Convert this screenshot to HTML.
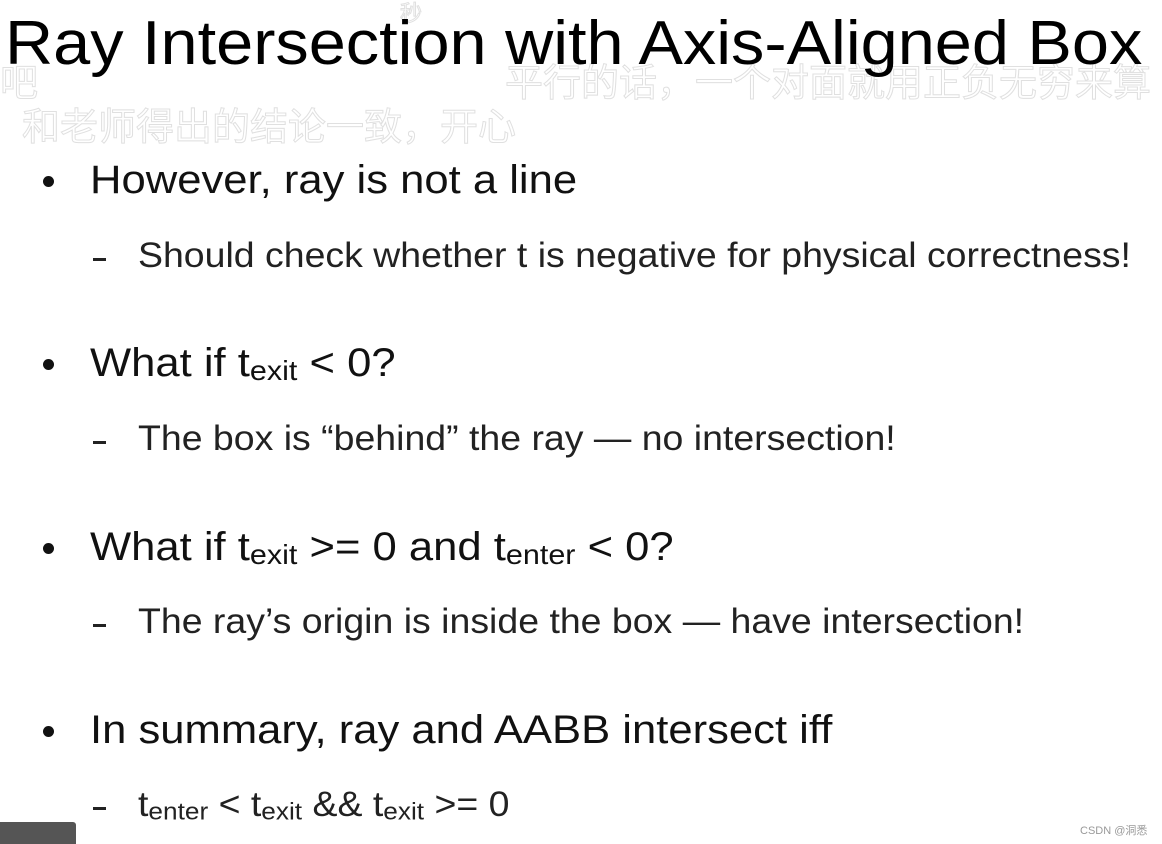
<!DOCTYPE html>
<html><head><meta charset="utf-8"><style>
html,body{margin:0;padding:0;background:#fff;}
body{width:1162px;height:844px;position:relative;overflow:hidden;font-family:"Liberation Sans","Noto Sans CJK SC",sans-serif;color:#111;}
.t{position:absolute;white-space:nowrap;transform-origin:0 0;}
.title{left:5px;top:8px;font-size:62px;font-weight:normal;color:#000;transform:scaleX(1.075);}
.b{font-size:40px;transform:scaleX(1.09);}
.s{font-size:35px;color:#222;transform:scaleX(1.07);}
.dot{position:absolute;width:11px;height:11px;border-radius:50%;background:#111;}
.dash{position:absolute;width:13px;height:3px;background:#222;}
sub{font-size:0.7em;vertical-align:-0.15em;line-height:0;}
.wm{position:absolute;white-space:nowrap;font-size:38px;color:#fff;-webkit-text-stroke:1px #e0e0e0;font-family:"Noto Sans CJK SC",sans-serif;}
</style></head><body>
<div class="wm" style="left:0;top:52px;">吧</div>
<div class="wm" style="left:505px;top:52px;">平行的话，一个对面就用正负无穷来算</div>
<div class="wm" style="left:22px;top:96px;">和老师得出的结论一致，开心</div>
<div class="wm" style="left:400px;top:-4px;font-size:22px;">秒</div>
<div class="t title">Ray Intersection with Axis-Aligned Box</div>

<div class="dot" style="left:43px;top:176px;"></div>
<div class="t b" style="left:90px;top:158px;">However, ray is not a line</div>
<div class="dash" style="left:93px;top:258px;"></div>
<div class="t s" style="left:138px;top:236px;">Should check whether t is negative for physical correctness!</div>

<div class="dot" style="left:43px;top:359px;"></div>
<div class="t b" style="left:90px;top:341px;">What if t<sub>exit</sub> &lt; 0?</div>
<div class="dash" style="left:93px;top:441px;"></div>
<div class="t s" style="left:138px;top:419px;">The box is “behind” the ray — no intersection!</div>

<div class="dot" style="left:43px;top:543px;"></div>
<div class="t b" style="left:90px;top:525px;">What if t<sub>exit</sub> &gt;= 0 and t<sub>enter</sub> &lt; 0?</div>
<div class="dash" style="left:93px;top:624px;"></div>
<div class="t s" style="left:138px;top:602px;">The ray’s origin is inside the box — have intersection!</div>

<div class="dot" style="left:43px;top:726px;"></div>
<div class="t b" style="left:90px;top:708px;">In summary, ray and AABB intersect iff</div>
<div class="dash" style="left:93px;top:807px;"></div>
<div class="t s" style="left:138px;top:785px;">t<sub>enter</sub> &lt; t<sub>exit</sub> &amp;&amp; t<sub>exit</sub> &gt;= 0</div>

<div style="position:absolute;left:0;top:822px;width:76px;height:22px;background:#555;border-radius:0 3px 0 0;"></div>
<div class="t" style="left:1080px;top:822px;font-size:11px;color:#999;">CSDN @洞悉</div>
</body></html>
